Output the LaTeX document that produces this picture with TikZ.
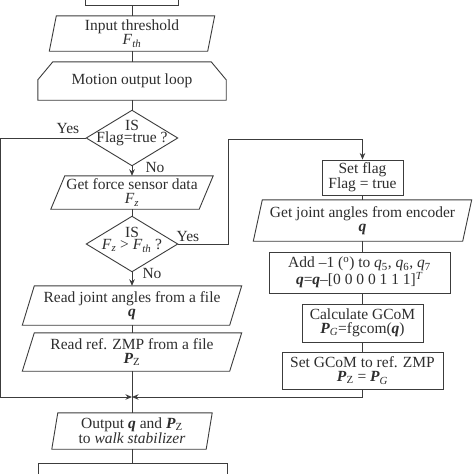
\documentclass[tikz,border=0pt]{standalone}
\usepackage{fontspec}
\setmainfont{Liberation Serif}
\usetikzlibrary{arrows.meta,calc}
\definecolor{lc}{HTML}{3C3C3C}
\definecolor{tc}{HTML}{2E2E2E}
\newcommand{\bq}{\textbf{\textit{q}}}
\newcommand{\bP}{\textbf{\textit{P}}}
\newcommand{\pgram}[2]{\draw[ln] ([xshift=#2]#1.north west) -- ([xshift=#2]#1.north east) -- ([xshift=-#2]#1.south east) -- ([xshift=-#2]#1.south west) -- cycle;}
\begin{document}
\begin{tikzpicture}[x=1pt,y=-1pt,
  ln/.style={draw=lc, line width=0.9pt},
  arr/.style={ln, -{Stealth[length=6.5pt,width=5.5pt]}},
  every node/.style={font=\fontsize{15.5}{14}\selectfont},
  box/.style={ln, rectangle, inner sep=0pt, align=center, text=tc},
  plain/.style={rectangle, inner sep=0pt, align=center, text=tc},
  lbl/.style={text=tc, inner sep=0pt, align=center},
  dtxt/.style={lbl, font=\fontsize{15.5}{12}\selectfont}]
\useasboundingbox (0,0) rectangle (474,474);
\clip (0,0) rectangle (474,474);
\fill[white] (0,0) rectangle (474,474);
% left column
\node[box, minimum width=93pt, minimum height=30pt] (start) at (132,-10) {};
\node[plain, minimum width=158pt, minimum height=35pt] (thr) at (132,33.5) {Input threshold\\\textit{F}\textsubscript{\textit{th}}};
\node[plain, minimum width=188pt, minimum height=38pt] (loop) at (132,81) {Motion output loop};
\node[plain, minimum width=91pt, minimum height=55pt] (d1) at (132,138) {};
\node[dtxt] (d1t) at (132,133.5) {IS\\Flag=true ?};
\node[plain, minimum width=148pt, minimum height=33pt] (fs) at (132,192.5) {Get force sensor data\\\textit{F}\textsubscript{\textit{z}}};
\node[plain, minimum width=91pt, minimum height=55pt] (d2) at (132,244) {};
\node[dtxt] (d2t) at (132,240) {IS\\\textit{F}\textsubscript{\textit{z}} > \textit{F}\textsubscript{\textit{th}} ?};
\node[plain, minimum width=207pt, minimum height=39pt] (rj) at (132,305.5) {Read joint angles from a file\\\bq};
\node[plain, minimum width=207pt, minimum height=38pt] (rz) at (132,352) {Read ref. ZMP from a file\\\bP\textsubscript{Z}};
\coordinate (m) at (132,397);
\node[plain, minimum width=154pt, minimum height=36pt] (out) at (132,431) {Output \bq{} and \bP\textsubscript{Z}\\to \textit{walk stabilizer}};
\node[box, minimum width=189pt, minimum height=30pt] (end) at (132.5,478) {};
% right column
\node[box, minimum width=81pt, minimum height=35pt] (sf) at (362.5,177.5) {Set flag\\Flag = true};
\node[plain, minimum width=209pt, minimum height=41pt] (enc) at (362.5,220.5) {Get joint angles from encoder\\\bq};
\node[box, minimum width=181pt, minimum height=41pt, font=\fontsize{15.5}{15}\selectfont] (add) at (359.5,272.5) {Add –1 (\textsuperscript{o}) to \textit{q}\textsubscript{5}, \textit{q}\textsubscript{6}, \textit{q}\textsubscript{7}\\\bq=\bq–[0 0 0 0 1 1 1]\textsuperscript{\textit{T}}};
\node[box, minimum width=121pt, minimum height=38pt] (gc) at (362.5,323) {Calculate GCoM\\\bP\textsubscript{\textit{G}}=fgcom(\bq)};
\node[box, minimum width=161pt, minimum height=37pt] (sz) at (362.5,370.5) {Set GCoM to ref. ZMP\\\bP\textsubscript{Z} = \bP\textsubscript{\textit{G}}};
% shapes
\pgram{thr}{3.5pt}
\pgram{fs}{7pt}
\pgram{rj}{6pt}
\pgram{rz}{6pt}
\pgram{out}{3pt}
\pgram{enc}{4.5pt}
\draw[ln] (loop.south west) -- ([yshift=-18pt]loop.north west) -- ([xshift=15pt]loop.north west) -- ([xshift=-15pt]loop.north east) -- ([yshift=-18pt]loop.north east) -- (loop.south east) -- cycle;
\draw[ln] (d1.north) -- (d1.east) -- (d1.south) -- (d1.west) -- cycle;
\draw[ln] (d2.north) -- (d2.east) -- (d2.south) -- (d2.west) -- cycle;
% coordinates for bends
\coordinate (lx) at (0.6,0);
\coordinate (yb) at (228,139);
% connectors
\draw[ln] (start.south) -- (thr.north);
\draw[ln] (thr.south) -- (loop.north);
\draw[ln] (loop.south) -- (d1.north);
\draw[arr] (d1.south) -- (fs.north);
\draw[ln] (fs.south) -- (d2.north);
\draw[arr] (d2.south) -- (rj.north);
\draw[ln] (rj.south) -- (rz.north);
\draw[ln] (rz.south) -- (out.north);
\draw[ln] (out.south) -- (out.south |- end.north);
\draw[arr] (d1.west) -| (lx |- m) -- (m);
\draw[arr] (d2.east) -| (yb) -| (sf.north);
\draw[ln] (sf.south) -- (enc.north);
\draw[ln] (enc.south) -- (enc.south |- add.north);
\draw[ln] (add.south -| gc.north) -- (gc.north);
\draw[ln] (gc.south) -- (sz.north);
\draw[arr] (sz.south) |- (m);
% labels
\node[lbl] (yes1) at (68,128) {Yes};
\node[lbl] (no1) at (155,167) {No};
\node[lbl] (yes2) at (188,236) {Yes};
\node[lbl] (no2) at (152,273) {No};
\end{tikzpicture}
\end{document}
